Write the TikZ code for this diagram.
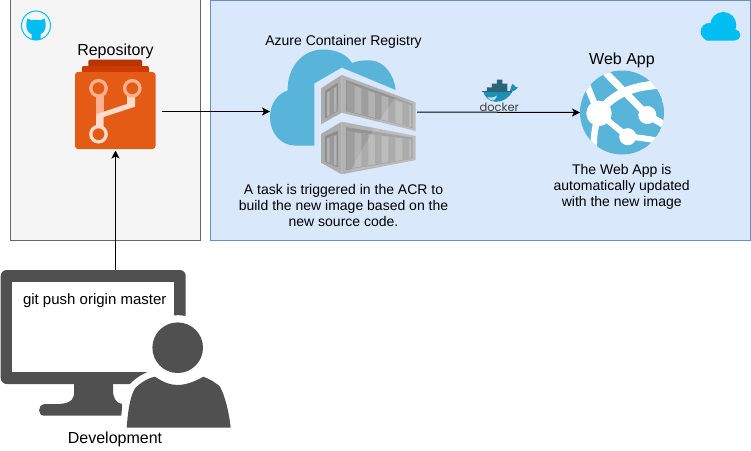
\documentclass[tikz,border=0pt]{standalone}
\usepackage{fontspec}
\setmainfont{Liberation Sans}
\newfontfamily\dockerfont{Poppins}
\usetikzlibrary{arrows.meta,calc}
\definecolor{azureblue}{HTML}{59B4D9}
\definecolor{skyicon}{HTML}{00BEF2}
\definecolor{screendark}{HTML}{505050}
\definecolor{repoa}{HTML}{E35B14}
\definecolor{repob}{HTML}{CC3A00}
\definecolor{repoc}{HTML}{B83500}
\definecolor{gitlo}{HTML}{FFB08F}
\definecolor{gitli}{HTML}{FFDCCB}
\definecolor{whaleb}{HTML}{1B8FB4}
\definecolor{whalec}{HTML}{2A6478}
\definecolor{panelblue}{HTML}{DAE8FC}
\definecolor{panelblueline}{HTML}{6C8EBF}
\newcommand\qcoord[3]{\coordinate (#1) at ($($(qa)!#2!(qb)$)!#3!($(qd)!#2!(qc)$)$);}
\newcommand\qfill[5]{\qcoord{q1}{#2}{#4}\qcoord{q2}{#3}{#4}\qcoord{q3}{#3}{#5}\qcoord{q4}{#2}{#5}\fill[#1] (q1) -- (q2) -- (q3) -- (q4) -- cycle;}
\newcommand\qset[4]{\coordinate (qa) at #1;\coordinate (qb) at #2;\coordinate (qc) at #3;\coordinate (qd) at #4;}
\newcommand\boxlong[4]{%
  \qset{#1}{#2}{#3}{#4}%
  \qfill{fill=black!30}{0}{1}{0}{1}%
  \qfill{fill=black!42}{.06}{.96}{.09}{.93}%
  \qfill{fill=black!30}{.08}{.94}{.17}{.91}%
  \foreach \ua/\ub in {.08/.175,.265/.36,.45/.54,.63/.725,.82/.91}{\qfill{fill=black!38}{\ua}{\ub}{.17}{.91}}%
}
\newcommand\boxend[4]{%
  \qset{#1}{#2}{#3}{#4}%
  \qfill{fill=black!33}{0}{1}{0}{1}%
  \qfill{fill=black!45}{.2}{.82}{.14}{.9}%
  \qfill{fill=black!30}{.28}{.76}{.22}{.88}%
  \qfill{fill=black!40}{.42}{.62}{.2}{.88}%
}
\tikzset{
  x=1pt,y=-1pt,
  panel/.style={line width=1pt},
  anchorbox/.style={inner sep=0pt,outer sep=0pt},
  textlabel/.style={inner sep=0pt,align=center,text=black,font=\fontsize{14}{15.7}\selectfont},
  biglabel/.style={inner sep=0pt,align=center,text=black,font=\fontsize{16}{18}\selectfont},
  flow/.style={line width=1pt,draw=black,-{Stealth[length=8pt,width=8pt,inset=2pt]}},
  webline/.style={draw=white,line cap=butt}
}
\begin{document}
\begin{tikzpicture}
\useasboundingbox (0,0) rectangle (751,450);
\fill[white] (0,0) rectangle (751,450);

% panels
\node[panel,anchorbox,draw=black!60,fill=black!4,minimum width=190pt,minimum height=241pt] (repopanel) at (105.5,120) {};
\node[panel,anchorbox,draw=panelblueline,fill=panelblue,minimum width=540pt,minimum height=240pt] (azurepanel) at (480.5,120.5) {};

% github badge
\draw[skyicon,line width=1pt] (36,25.5) circle[radius=14.5pt];
\fill[skyicon] (27.3,18.5) -- (31.5,20.3) .. controls (34,19.6) and (38,19.6) .. (40.5,20.3) -- (44.7,18.5)
  .. controls (45.4,22) and (46,24) .. (45.6,27) .. controls (45,31.5) and (42.5,33.5) .. (40.5,34.2)
  -- (40.5,39.4) .. controls (38,40.2) and (34,40.2) .. (31.5,39.4) -- (31.5,34.2)
  .. controls (29.5,33.5) and (27,31.5) .. (26.4,27) .. controls (26,24) and (26.6,22) .. (27.3,18.5) -- cycle;

% cloud badge
\fill[skyicon] (709.3,31.7) circle[radius=8.7pt] (723.3,25) circle[radius=13pt] (734.8,35) circle[radius=5.6pt];
\fill[skyicon,rounded corners=1.5pt] (705,28) rectangle (735,40.6);

% repository icon
\node[anchorbox,minimum width=93pt,minimum height=78pt] (repo) at (115.5,111.5) {};
\fill[repoc,rounded corners=1.5pt] (88.3,59.5) rectangle (142,68);
\fill[repob,rounded corners=2pt] (81.8,66) rectangle (149,76);
\fill[repoa,rounded corners=3pt] (75,72) rectangle (155.5,149);
\fill[gitlo] (96,95) rectangle (103.5,116);
\fill[gitli] (96,114.3) -- (127,104) -- (127,95) -- (135,95) -- (135,106.7) -- (103.5,117) -- (103.5,128) -- (96,128) -- cycle;
\draw[gitlo,line width=3.3pt] (98.5,88.3) circle[radius=7.7pt];
\draw[gitlo,line width=3.3pt] (132.3,88.3) circle[radius=7.7pt];
\draw[gitli,line width=3.3pt] (98.5,134.2) circle[radius=7.7pt];

% ACR icon
\node[anchorbox,minimum width=147pt,minimum height=125pt] (acr) at (343.5,112) {};
\fill[azureblue] (314.3,145.5) -- (295,145.5)
  .. controls (280,145.5) and (270,132) .. (270,117.5)
  .. controls (270,104) and (277,94) .. (287.7,90.5)
  .. controls (287,68) and (302,49.5) .. (323,49.5)
  .. controls (337,49.5) and (347,55) .. (352,63)
  .. controls (358,60.5) and (365,60) .. (372,60.5)
  .. controls (384,62) and (394,74) .. (395.7,90)
  -- (341.7,67.5) -- (314.3,83.5) -- cycle;
\boxend{(321,88.3)}{(341.7,75)}{(341.7,112.7)}{(321,124.3)}
\boxlong{(341.7,75)}{(415.7,102.3)}{(415.7,131)}{(341.7,112.7)}
\fill[white,opacity=.14] (395,98) -- (415.7,102.3) -- (415.7,131) -- (378,122) -- cycle;
\boxend{(321,134)}{(341.7,121.7)}{(341.7,174.3)}{(321,162.7)}
\boxlong{(341.7,121.7)}{(415.7,136)}{(415.7,160)}{(341.7,174.3)}
\fill[white,opacity=.14] (374,128) -- (415.7,136) -- (415.7,160) -- (350,171.5) -- cycle;

% docker
\fill[whaleb] (483,91) -- (510,91) .. controls (510.5,88) and (511,85.5) .. (512.5,84)
  .. controls (514,85) and (515,86) .. (515.5,86.8) .. controls (516.5,86.5) and (517.3,86.8) .. (518,87.5)
  .. controls (516,90) and (514,91) .. (512.5,91.3)
  .. controls (509,98) and (503,101.8) .. (496,101.8)
  .. controls (489,101.8) and (484.5,97) .. (483,91) -- cycle;
\fill[white!70!whaleb] (487,97) .. controls (490,98) and (494,97.5) .. (497,95.5)
  .. controls (496,99) and (494,100.8) .. (492.5,100.6) .. controls (490,100) and (488.5,99) .. (487,97) -- cycle;
\fill[whalec] (496.8,79.7) rectangle (502.3,83.6) (491.8,83.6) rectangle (507.3,87.4) (486.8,87.4) rectangle (507.3,91);
\draw[whalec,line width=.5pt] (481.5,91.2) -- (512,91.2);
\node[inner sep=0pt,text=black!75,font=\dockerfont\fontsize{11.5}{13}\selectfont] (dockerlabel) at (499.3,107) {docker};

% web app icon
\node[anchorbox,circle,minimum size=84pt] (web) at (622,112.5) {};
\begin{scope}
  \clip (622,112.5) circle[radius=42pt];
  \fill[azureblue] (622,112.5) circle[radius=42pt];
  \draw[webline,line width=7pt] (606,73) -- (647.3,115) -- (668,127);
  \draw[webline,line width=8.5pt] (599,113.3) .. controls (610,96) and (630,86) .. (660,84.5);
  \draw[webline,line width=6.5pt] (587,85) .. controls (592,98) and (597,110) .. (599,113.3) .. controls (596,124) and (593,135) .. (594,148);
  \draw[webline,line width=6pt] (599,113.3) -- (627.7,136.7) .. controls (637,137) and (648,139) .. (660,141);
  \fill[white] (599,113.3) circle[radius=12.7pt] (647.3,115) circle[radius=9pt] (627.7,136.7) circle[radius=8.5pt];
\end{scope}

% monitor
\node[anchorbox,minimum width=185pt,minimum height=114pt] (monitor) at (93.2,327) {};
\fill[screendark] (74,380) -- (74,390) .. controls (75,398) and (72,403) .. (60,404)
  -- (44,404.2) .. controls (37.5,405) and (37.5,415.7) .. (44,415.7)
  -- (122,415.7) -- (122,404) .. controls (116,403) and (113,398) .. (113,390) -- (113,380) -- cycle;
\fill[screendark,rounded corners=6pt] (0.7,270) rectangle (185.7,384);
\fill[white] (12.3,281.7) rectangle (174,372.3);
% person
\fill[white] (177.7,347.7) circle[radius=32.5pt];
\draw[white,line width=13pt,fill=white] (126.7,427.7) .. controls (128,410) and (130,397) .. (135,388.3)
  .. controls (140,383) and (148,378) .. (155,376.7)
  .. controls (163,382) and (170,385) .. (177.7,385)
  .. controls (186,385) and (196,381) .. (203.3,376.7)
  .. controls (210,379) and (216,383) .. (220,386.7)
  .. controls (225,396) and (229,412) .. (230.7,427.7) -- cycle;
\fill[screendark] (177.7,347.7) circle[radius=25.3pt];
\fill[screendark] (126.7,427.7) .. controls (128,410) and (130,397) .. (135,388.3)
  .. controls (140,383) and (148,378) .. (155,376.7)
  .. controls (163,382) and (170,385) .. (177.7,385)
  .. controls (186,385) and (196,381) .. (203.3,376.7)
  .. controls (210,379) and (216,383) .. (220,386.7)
  .. controls (225,396) and (229,412) .. (230.7,427.7) -- cycle;

% connectors
\draw[flow] (repo.east) -- (acr.west |- repo.east);
\draw[flow] (repo.south |- monitor.north) -- (repo.south);
\draw[flow] (acr.east) -- (web.west);

% labels
\node[biglabel] (repolabel) at (115.5,51) {Repository};
\node[textlabel] (acrlabel) at (343.5,41.5) {Azure Container Registry};
\node[biglabel] (weblabel) at (622,60) {Web App};
\node[textlabel] (acrtext) at (343.5,205.5) {A task is triggered in the ACR to\\build the new image based on the\\new source code.};
\node[textlabel] (webtext) at (621.7,187) {The Web App is\\automatically updated\\with the new image};
\node[inner sep=0pt,text=black,font=\fontsize{15}{17}\selectfont] (gitlabel) at (94.7,300.5) {git push origin master};
\node[biglabel] (devlabel) at (115,439) {Development};
\end{tikzpicture}
\end{document}
